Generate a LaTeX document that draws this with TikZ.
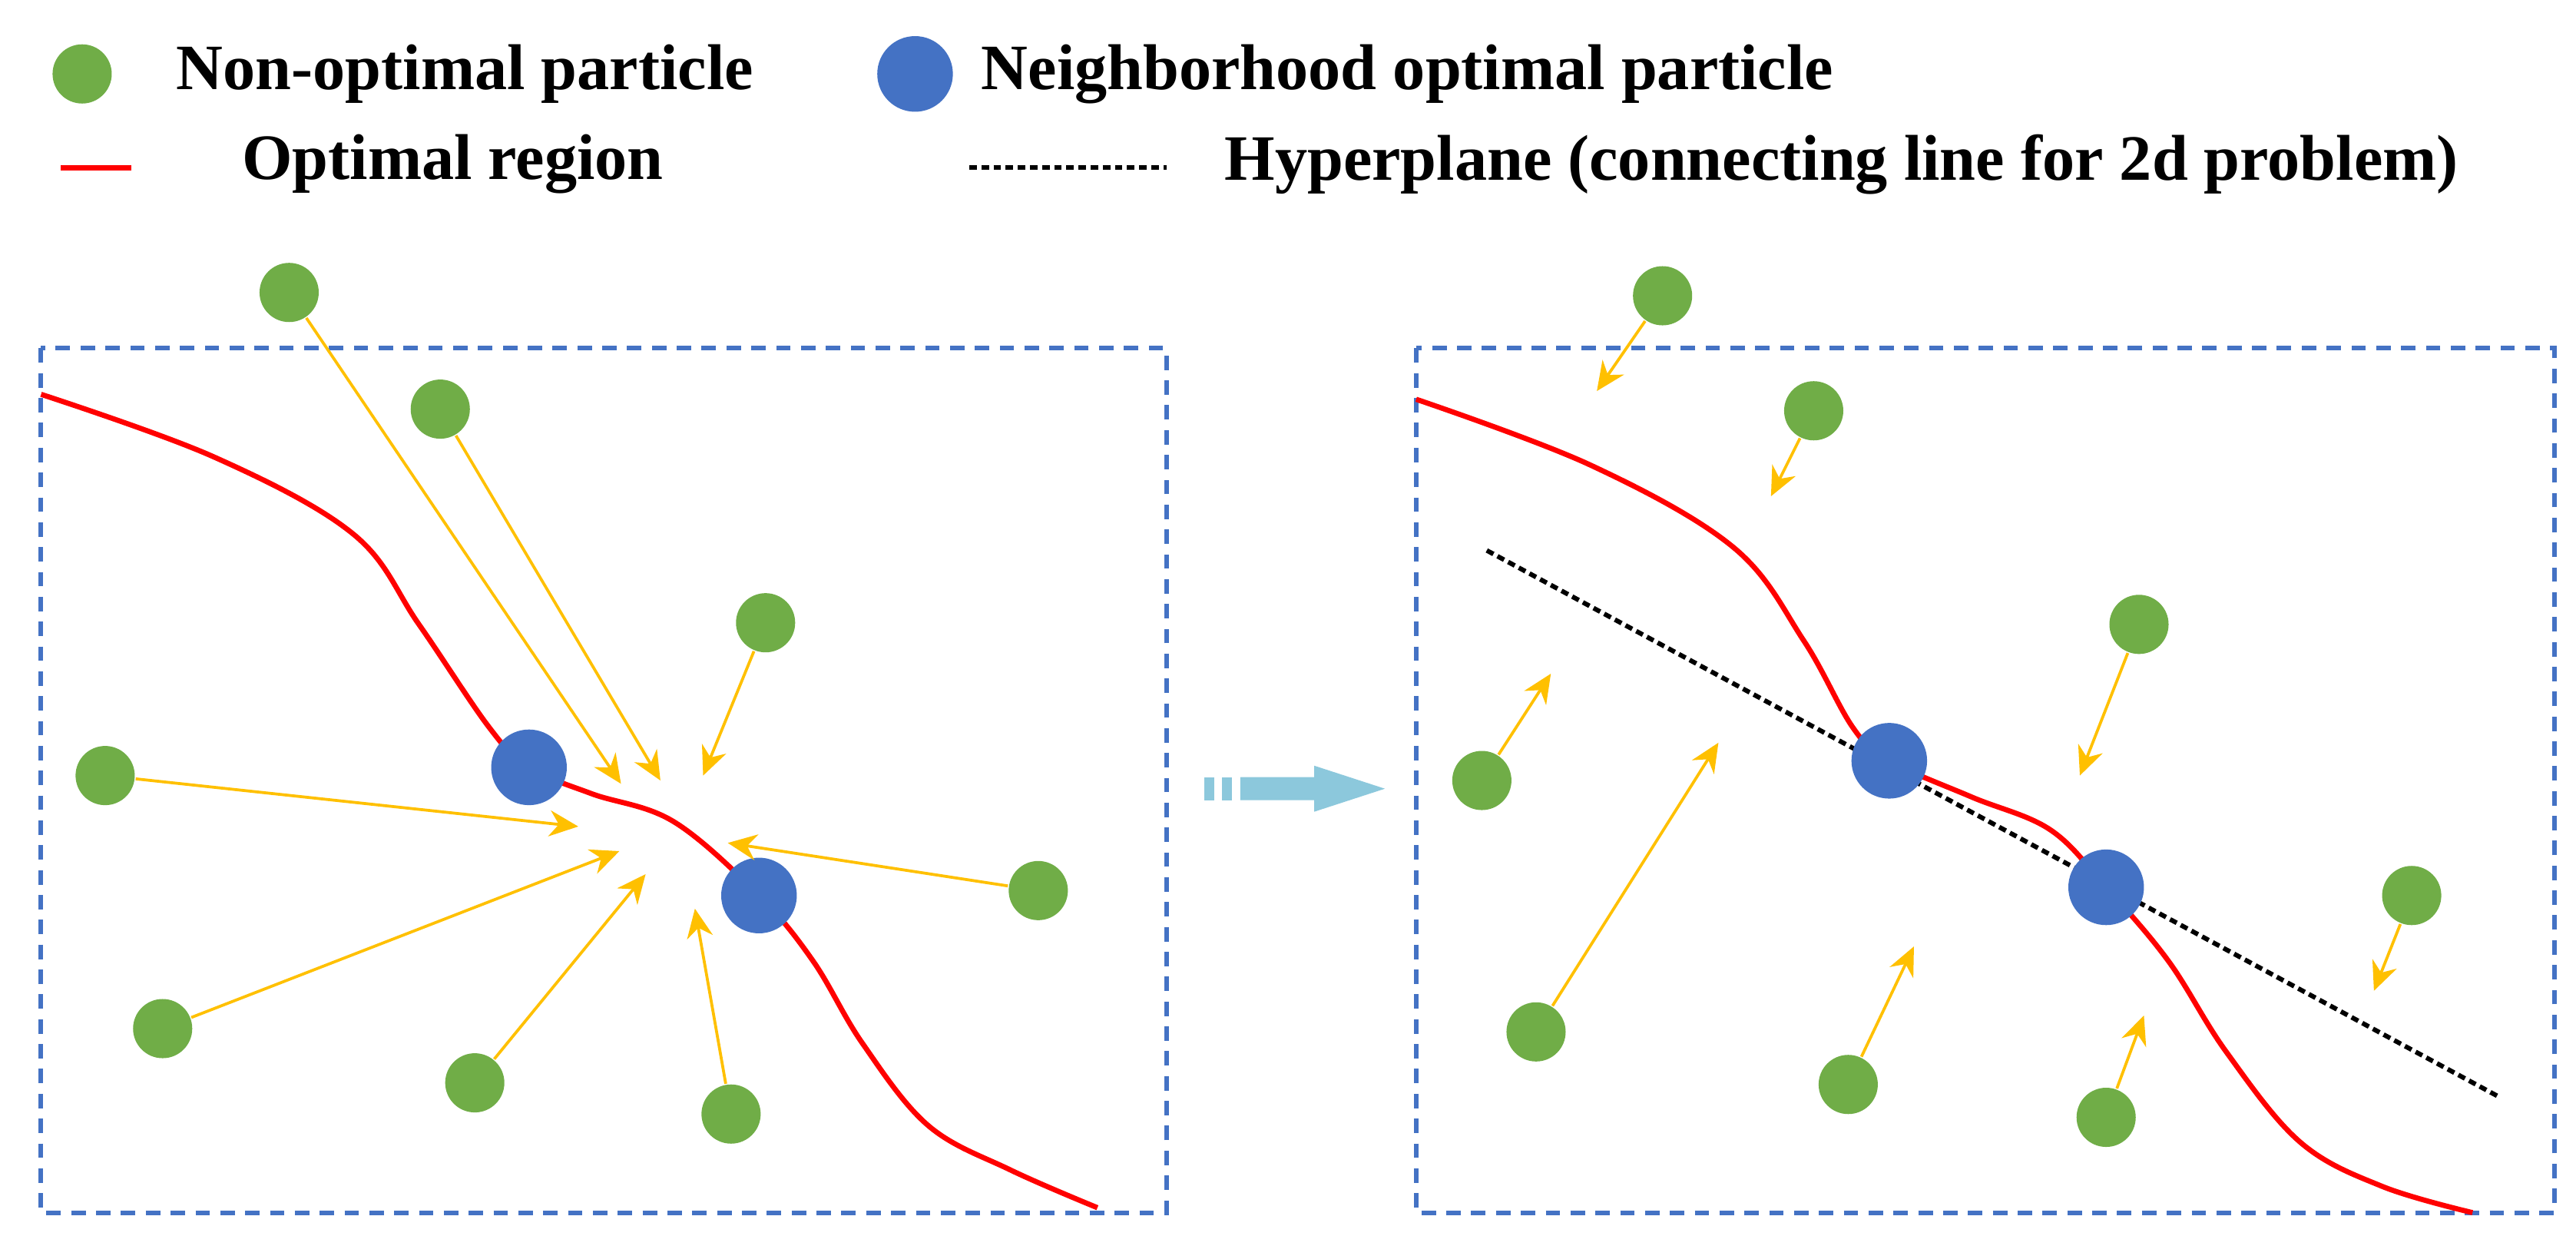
\documentclass[tikz,border=0pt]{standalone}
\usepackage{fontspec}
\setmainfont{Liberation Serif}
\usetikzlibrary{arrows.meta}
\definecolor{pgreen}{RGB}{112,173,71}
\definecolor{pblue}{RGB}{68,114,196}
\definecolor{pyellow}{RGB}{255,192,0}
\definecolor{parrow}{RGB}{140,200,220}
\tikzset{
  nonopt/.style={circle, fill=pgreen, minimum size=0.36cm, inner sep=0pt},
  nbopt/.style={circle, fill=pblue, minimum size=0.46cm, inner sep=0pt},
  move/.style={pyellow, line width=0.5pt, -{Stealth[length=5pt,width=4.5pt]}},
  region/.style={red, line width=0.9pt},
  frame/.style={pblue, line width=0.8pt, dash pattern=on 2.5pt off 1.8pt},
  hyper/.style={black, line width=0.8pt, dash pattern=on 1.3pt off 0.8pt},
  legtext/.style={anchor=west, font=\fontsize{11.2}{11.2}\selectfont\bfseries}
}
\begin{document}
\begin{tikzpicture}[x=0.01cm, y=-0.01cm]
\useasboundingbox (0,0) rectangle (1568,752);

% legend
\node[nonopt] (leg-g) at (50,45) {};
\node[legtext] (leg-gt) at (95,45) {Non-optimal particle};
\node[nbopt] (leg-b) at (557,45) {};
\node[legtext] (leg-bt) at (585,45) {Neighborhood optimal particle};
\coordinate (leg-r1) at (37,102);
\coordinate (leg-r2) at (80,102);
\draw[region] (leg-r1) -- (leg-r2);
\node[legtext] (leg-rt) at (135,100) {Optimal region};
\coordinate (leg-h1) at (590,102);
\coordinate (leg-h2) at (710,102);
\draw[hyper] (leg-h1) -- (leg-h2);
\node[legtext] (leg-ht) at (733,100) {Hyperplane (connecting line for 2d problem)};

% frames
\draw[frame] (25,212) rectangle (710,738);
\draw[frame] (862,212) rectangle (1555,738);

% left panel
\draw[region] plot[smooth, tension=0.6] coordinates {(25,240) (130,278) (215,325) (255,380) (298,443) (322,467) (360,483) (410,500) (462,545) (495,585) (525,635) (565,685) (615,712) (668,735)};
\node[nbopt] (lb1) at (322,467) {};
\node[nbopt] (lb2) at (462,545) {};
\foreach \x/\y/\tx/\ty/\n in {176/178/378/477/a, 268/249/402/475/b, 466/379/428/472/c, 64/472/352/503/d,
  632/542/443/513/e, 99/626/377/518/f, 289/659/393/532/g, 445/678/423/553/h} {
  \node[nonopt] (lg-\n) at (\x,\y) {};
  \coordinate (lt-\n) at (\tx,\ty);
  \draw[move] (lg-\n) -- (lt-\n);
}

% transition arrow
\fill[parrow] (733,473) rectangle (739,487);
\fill[parrow] (744,473) rectangle (750,487);
\fill[parrow] (755,473) -- (800,473) -- (800,466) -- (843,480) -- (800,494) -- (800,487) -- (755,487) -- cycle;

% right panel
\draw[region] plot[smooth, tension=0.6] coordinates {(862,243) (968,283) (1055,333) (1098,390) (1128,443) (1150,463) (1200,485) (1248,505) (1282,540) (1320,585) (1355,640) (1400,695) (1450,722) (1505,738)};
\coordinate (hp1) at (905,335);
\coordinate (hp2) at (1522,668);
\draw[hyper] (hp1) -- (hp2);
\node[nbopt] (rb1) at (1150,463) {};
\node[nbopt] (rb2) at (1282,540) {};
\foreach \x/\y/\tx/\ty/\n in {1012/180/972/238/a, 1104/250/1078/302/b, 1302/380/1266/472/c, 902/475/944/410/d,
  1468/545/1445/603/e, 935/628/1046/452/f, 1125/660/1165/576/g, 1282/680/1305/618/h} {
  \node[nonopt] (rg-\n) at (\x,\y) {};
  \coordinate (rt-\n) at (\tx,\ty);
  \draw[move] (rg-\n) -- (rt-\n);
}
\end{tikzpicture}
\end{document}
